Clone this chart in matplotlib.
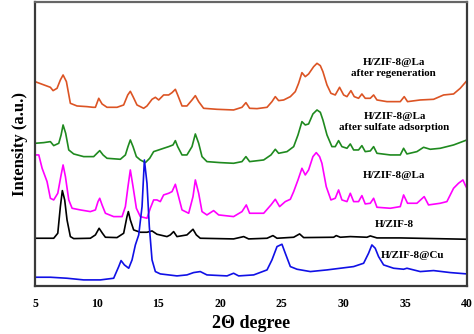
import matplotlib
matplotlib.use("Agg")
import matplotlib.pyplot as plt

# H/ZIF-8@La after regeneration
regen_x = [5.00, 6.24, 6.46, 6.78, 7.05, 7.27, 7.54, 7.86, 8.40, 9.21,
           9.70, 9.89, 10.16, 10.43, 10.83, 11.64, 12.18, 12.51, 12.72, 12.94,
           13.26, 13.80, 14.07, 14.48, 14.75, 15.02, 15.42, 15.83, 16.10, 16.37,
           16.56, 16.91, 17.31, 17.72, 17.99, 18.26, 18.66, 19.74, 21.09, 21.77,
           22.09, 22.39, 22.99, 23.80, 24.20, 24.47, 24.74, 25.15, 25.69, 26.09,
           26.36, 26.63, 26.90, 27.17, 27.58, 27.85, 28.12, 28.33, 28.66, 28.98,
           29.33, 29.68, 30.01, 30.28, 30.60, 30.87, 31.22, 31.49, 31.76, 32.17,
           32.44, 32.71, 33.52, 34.60, 34.92, 35.19, 36.22, 37.30, 38.11, 38.92,
           39.46, 40.00]
regen_y = [613, 596, 586, 593, 618, 633, 613, 548, 540, 538,
           536, 536, 563, 546, 536, 536, 543, 573, 584, 568,
           543, 533, 540, 560, 566, 558, 573, 573, 580, 590,
           573, 540, 540, 558, 571, 553, 533, 530, 528, 536,
           550, 533, 532, 536, 553, 568, 556, 558, 568, 583,
           608, 640, 628, 636, 658, 668, 661, 643, 603, 578,
           573, 596, 573, 568, 586, 568, 563, 576, 563, 563,
           573, 558, 553, 553, 568, 553, 558, 560, 573, 576,
           593, 616]

# H/ZIF-8@La after sulfate adsorption
sulf_x = [5.00, 5.70, 6.24, 6.51, 6.92, 7.11, 7.27, 7.48, 7.73, 8.13,
          8.94, 9.75, 10.02, 10.24, 10.51, 10.83, 11.91, 12.32, 12.53, 12.72,
          12.94, 13.21, 13.53, 13.94, 14.29, 14.61, 15.02, 15.42, 15.83, 16.18,
          16.37, 16.56, 16.91, 17.31, 17.72, 17.99, 18.26, 18.53, 18.93, 20.01,
          21.09, 21.77, 22.09, 22.39, 23.53, 24.12, 24.47, 24.74, 25.42, 25.96,
          26.31, 26.63, 26.90, 27.17, 27.52, 27.85, 28.12, 28.33, 28.66, 29.06,
          29.33, 29.60, 29.87, 30.28, 30.55, 30.82, 31.22, 31.49, 31.76, 32.17,
          32.44, 32.71, 33.79, 34.60, 34.87, 35.14, 35.95, 36.49, 37.03, 37.84,
          38.92, 40.00]
sulf_y = [428, 430, 433, 421, 428, 453, 483, 458, 408, 396,
          388, 388, 398, 406, 393, 383, 380, 393, 418, 438,
          418, 388, 378, 370, 383, 403, 408, 413, 418, 423,
          436, 418, 393, 393, 418, 456, 428, 388, 373, 370,
          368, 373, 388, 373, 378, 393, 410, 398, 403, 418,
          453, 493, 483, 486, 516, 528, 521, 498, 453, 418,
          418, 436, 418, 413, 426, 408, 408, 421, 403, 405,
          418, 398, 393, 393, 413, 396, 403, 416, 410, 413,
          423, 438]

# H/ZIF-8@La
la_x = [5.00, 5.30, 5.57, 5.97, 6.24, 6.51, 6.84, 7.11, 7.27, 7.46,
        7.73, 8.00, 8.67, 9.48, 9.89, 10.10, 10.24, 10.43, 10.70, 11.37,
        12.05, 12.32, 12.53, 12.72, 12.94, 13.21, 13.53, 14.07, 14.34, 14.61,
        14.88, 15.15, 15.42, 15.83, 16.10, 16.37, 16.56, 16.91, 17.45, 17.80,
        17.99, 18.26, 18.53, 18.93, 19.47, 19.88, 21.09, 21.77, 22.12, 22.39,
        23.53, 24.12, 24.47, 24.82, 25.28, 25.69, 25.96, 26.31, 26.63, 26.90,
        27.17, 27.52, 27.79, 28.06, 28.25, 28.60, 28.98, 29.33, 29.60, 29.87,
        30.28, 30.55, 30.82, 31.22, 31.49, 31.76, 32.17, 32.44, 32.71, 33.79,
        34.60, 34.87, 35.19, 35.95, 36.54, 36.89, 37.84, 38.38, 38.92, 39.32,
        39.68, 39.86, 40.00]
la_y = [393, 393, 353, 313, 263, 258, 278, 333, 363, 328,
        258, 233, 228, 223, 228, 253, 263, 243, 218, 208,
        208, 238, 298, 348, 298, 233, 208, 203, 233, 258,
        258, 253, 273, 278, 283, 305, 278, 228, 218, 268,
        318, 278, 223, 213, 226, 213, 208, 223, 243, 218,
        218, 243, 260, 238, 253, 260, 283, 318, 353, 333,
        348, 388, 400, 388, 368, 298, 258, 263, 288, 258,
        253, 278, 253, 253, 271, 246, 248, 263, 236, 233,
        238, 273, 248, 248, 268, 243, 248, 253, 293, 308,
        318, 303, 293]

# H/ZIF-8
zif_x = [5.00, 6.51, 6.84, 7.05, 7.21, 7.40, 7.59, 7.86, 8.13, 9.48,
         9.89, 10.19, 10.46, 10.70, 11.64, 12.18, 12.45, 12.56, 12.72, 12.99,
         13.53, 14.07, 14.48, 14.88, 15.69, 15.96, 16.23, 16.50, 17.31, 17.80,
         18.07, 18.39, 21.09, 21.91, 22.31, 23.80, 24.28, 24.61, 25.96, 26.44,
         26.77, 29.20, 29.41, 29.74, 30.55, 31.90, 32.17, 32.71, 34.60, 37.30,
         40.00]
zif_y = [143, 143, 158, 238, 286, 258, 198, 148, 142, 143,
         153, 173, 158, 146, 145, 158, 208, 223, 198, 168,
         161, 161, 165, 155, 148, 153, 163, 148, 153, 170,
         153, 143, 141, 148, 141, 143, 151, 143, 146, 156,
         145, 146, 151, 146, 148, 146, 150, 144, 144, 142,
         140]

# H/ZIF-8@Cu
cu_x = [5.00, 6.24, 7.59, 8.94, 10.29, 11.37, 11.78, 11.97, 12.24, 12.59,
        12.86, 13.13, 13.40, 13.67, 13.86, 14.07, 14.26, 14.48, 14.75, 15.15,
        16.50, 17.31, 17.85, 18.39, 18.93, 20.56, 21.09, 21.50, 22.72, 23.80,
        24.20, 24.61, 25.01, 25.28, 25.69, 26.23, 27.31, 28.66, 29.74, 30.82,
        31.63, 32.03, 32.30, 32.57, 32.84, 33.25, 34.06, 34.87, 35.14, 36.22,
        37.30, 38.65, 40.00]
cu_y = [26, 26, 23, 18, 18, 23, 58, 76, 63, 53,
        78, 123, 153, 238, 378, 308, 178, 78, 43, 36,
        30, 33, 40, 43, 33, 30, 38, 30, 33, 48,
        78, 118, 125, 98, 58, 50, 43, 48, 53, 58,
        68, 98, 123, 113, 88, 63, 53, 50, 53, 43,
        46, 40, 36]

xticks = [5, 10, 15, 20, 25, 30, 35, 40]

plt.rcParams['font.family'] = ['Liberation Serif', 'DejaVu Serif']

fig = plt.figure(figsize=(4.74, 3.34), dpi=100)
ax = fig.add_axes([0.074, 0.144, 0.911, 0.851])

lw = 1.2
ax.plot(regen_x, regen_y, color='#dc5424', lw=lw)
ax.plot(sulf_x, sulf_y, color='#1f8a1f', lw=lw)
ax.plot(la_x, la_y, color='#ff00ff', lw=lw)
ax.plot(zif_x, zif_y, color='black', lw=lw)
ax.plot(cu_x, cu_y, color='#1010e6', lw=lw)

tk = dict(fontsize=7.9, fontweight='bold', ha='center', va='center', linespacing=1.3)
ax.text(34.06, 653, 'H/ZIF-8@La\nafter regeneration', **tk)
ax.text(34.14, 491, 'H/ZIF-8@La\nafter sulfate adsorption', **tk)
ax.text(34.06, 331, 'H/ZIF-8@La', **tk)
ax.text(34.14, 185, 'H/ZIF-8', **tk)
ax.text(35.57, 92, 'H/ZIF-8@Cu', **tk)

ax.set_xlim(5, 40)
ax.set_ylim(0, 853)
ax.set_xticks(xticks)
ax.set_xticklabels([str(t) for t in xticks], fontsize=8.5, fontweight='bold')
ax.set_yticks([])
ax.tick_params(axis='x', length=0, pad=9)

for side in ['left', 'bottom', 'right']:
    ax.spines[side].set_color('#3a3a3a')
    ax.spines[side].set_linewidth(1.6)
ax.spines['top'].set_color('#666666')
ax.spines['top'].set_linewidth(1.6)

ax.set_xlabel('2Θ degree', fontsize=13, fontweight='bold', labelpad=3)
ax.set_ylabel('Intensity (a.u.)', fontsize=12, fontweight='bold', labelpad=5)

fig.savefig('out.png', dpi=100)
